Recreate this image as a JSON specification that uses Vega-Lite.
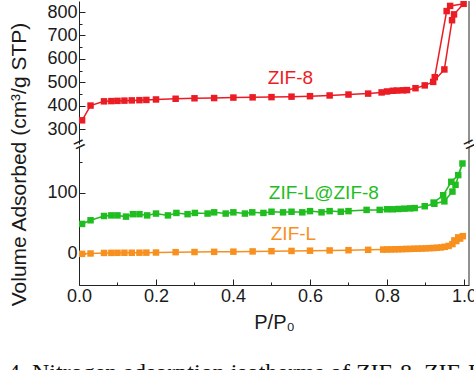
{
  "$schema": "https://vega.github.io/schema/vega-lite/v6.json",
  "autosize": {"type": "pad"},
  "padding": {"left": 7, "top": 0, "right": 0, "bottom": 0},
  "background": "white",
  "spacing": 3,
  "bounds": "flush",
  "config": {"font": "Liberation Sans", "view": {"stroke": null}},
  "title": {"text": "4. Nitrogen adsorption isotherms of ZIF-8, ZIF-L and ZIF-L@ZIF-8", "orient": "bottom", "anchor": "start", "frame": "bounds", "font": "Liberation Serif", "fontSize": 24, "fontWeight": "normal", "color": "#111", "offset": 29},
  "datasets": {
    "iso": [
      {"s": "ZIF-8", "i": 1, "P": 0.008, "V": 338},
      {"s": "ZIF-8", "i": 2, "P": 0.030, "V": 401},
      {"s": "ZIF-8", "i": 3, "P": 0.065, "V": 419},
      {"s": "ZIF-8", "i": 4, "P": 0.084, "V": 420},
      {"s": "ZIF-8", "i": 5, "P": 0.100, "V": 421},
      {"s": "ZIF-8", "i": 6, "P": 0.118, "V": 422},
      {"s": "ZIF-8", "i": 7, "P": 0.137, "V": 423},
      {"s": "ZIF-8", "i": 8, "P": 0.157, "V": 424},
      {"s": "ZIF-8", "i": 9, "P": 0.175, "V": 425},
      {"s": "ZIF-8", "i": 10, "P": 0.200, "V": 427},
      {"s": "ZIF-8", "i": 11, "P": 0.251, "V": 430},
      {"s": "ZIF-8", "i": 12, "P": 0.300, "V": 432},
      {"s": "ZIF-8", "i": 13, "P": 0.351, "V": 433},
      {"s": "ZIF-8", "i": 14, "P": 0.401, "V": 435},
      {"s": "ZIF-8", "i": 15, "P": 0.451, "V": 436},
      {"s": "ZIF-8", "i": 16, "P": 0.500, "V": 437},
      {"s": "ZIF-8", "i": 17, "P": 0.552, "V": 439},
      {"s": "ZIF-8", "i": 18, "P": 0.600, "V": 441},
      {"s": "ZIF-8", "i": 19, "P": 0.651, "V": 444},
      {"s": "ZIF-8", "i": 20, "P": 0.700, "V": 448},
      {"s": "ZIF-8", "i": 21, "P": 0.751, "V": 452},
      {"s": "ZIF-8", "i": 22, "P": 0.786, "V": 457},
      {"s": "ZIF-8", "i": 23, "P": 0.800, "V": 461},
      {"s": "ZIF-8", "i": 24, "P": 0.815, "V": 464},
      {"s": "ZIF-8", "i": 25, "P": 0.826, "V": 465},
      {"s": "ZIF-8", "i": 26, "P": 0.842, "V": 466},
      {"s": "ZIF-8", "i": 27, "P": 0.852, "V": 467},
      {"s": "ZIF-8", "i": 28, "P": 0.874, "V": 475},
      {"s": "ZIF-8", "i": 29, "P": 0.898, "V": 487},
      {"s": "ZIF-8", "i": 30, "P": 0.920, "V": 502},
      {"s": "ZIF-8", "i": 31, "P": 0.949, "V": 555},
      {"s": "ZIF-8", "i": 32, "P": 0.969, "V": 765},
      {"s": "ZIF-8", "i": 33, "P": 0.974, "V": 790},
      {"s": "ZIF-8", "i": 34, "P": 0.999, "V": 835},
      {"s": "ZIF-8", "i": 35, "P": 0.964, "V": 826},
      {"s": "ZIF-8", "i": 36, "P": 0.955, "V": 804},
      {"s": "ZIF-8", "i": 37, "P": 0.924, "V": 522},

      {"s": "ZIF-L@ZIF-8", "i": 1, "P": 0.008, "V": 49},
      {"s": "ZIF-L@ZIF-8", "i": 2, "P": 0.030, "V": 55},
      {"s": "ZIF-L@ZIF-8", "i": 3, "P": 0.065, "V": 62},
      {"s": "ZIF-L@ZIF-8", "i": 4, "P": 0.084, "V": 63},
      {"s": "ZIF-L@ZIF-8", "i": 5, "P": 0.100, "V": 63},
      {"s": "ZIF-L@ZIF-8", "i": 6, "P": 0.122, "V": 61},
      {"s": "ZIF-L@ZIF-8", "i": 7, "P": 0.140, "V": 65},
      {"s": "ZIF-L@ZIF-8", "i": 8, "P": 0.157, "V": 65},
      {"s": "ZIF-L@ZIF-8", "i": 9, "P": 0.177, "V": 63},
      {"s": "ZIF-L@ZIF-8", "i": 10, "P": 0.200, "V": 66},
      {"s": "ZIF-L@ZIF-8", "i": 11, "P": 0.231, "V": 63},
      {"s": "ZIF-L@ZIF-8", "i": 12, "P": 0.253, "V": 67},
      {"s": "ZIF-L@ZIF-8", "i": 13, "P": 0.282, "V": 65},
      {"s": "ZIF-L@ZIF-8", "i": 14, "P": 0.301, "V": 67},
      {"s": "ZIF-L@ZIF-8", "i": 15, "P": 0.334, "V": 66},
      {"s": "ZIF-L@ZIF-8", "i": 16, "P": 0.351, "V": 68},
      {"s": "ZIF-L@ZIF-8", "i": 17, "P": 0.381, "V": 66},
      {"s": "ZIF-L@ZIF-8", "i": 18, "P": 0.401, "V": 68},
      {"s": "ZIF-L@ZIF-8", "i": 19, "P": 0.431, "V": 66},
      {"s": "ZIF-L@ZIF-8", "i": 20, "P": 0.450, "V": 68},
      {"s": "ZIF-L@ZIF-8", "i": 21, "P": 0.479, "V": 67},
      {"s": "ZIF-L@ZIF-8", "i": 22, "P": 0.500, "V": 69},
      {"s": "ZIF-L@ZIF-8", "i": 23, "P": 0.530, "V": 68},
      {"s": "ZIF-L@ZIF-8", "i": 24, "P": 0.552, "V": 69},
      {"s": "ZIF-L@ZIF-8", "i": 25, "P": 0.580, "V": 68},
      {"s": "ZIF-L@ZIF-8", "i": 26, "P": 0.600, "V": 70},
      {"s": "ZIF-L@ZIF-8", "i": 27, "P": 0.630, "V": 68},
      {"s": "ZIF-L@ZIF-8", "i": 28, "P": 0.651, "V": 70},
      {"s": "ZIF-L@ZIF-8", "i": 29, "P": 0.680, "V": 69},
      {"s": "ZIF-L@ZIF-8", "i": 30, "P": 0.700, "V": 70},
      {"s": "ZIF-L@ZIF-8", "i": 31, "P": 0.747, "V": 72},
      {"s": "ZIF-L@ZIF-8", "i": 32, "P": 0.781, "V": 72},
      {"s": "ZIF-L@ZIF-8", "i": 33, "P": 0.800, "V": 73},
      {"s": "ZIF-L@ZIF-8", "i": 34, "P": 0.815, "V": 73},
      {"s": "ZIF-L@ZIF-8", "i": 35, "P": 0.830, "V": 73.5},
      {"s": "ZIF-L@ZIF-8", "i": 36, "P": 0.845, "V": 74},
      {"s": "ZIF-L@ZIF-8", "i": 37, "P": 0.860, "V": 74.5},
      {"s": "ZIF-L@ZIF-8", "i": 38, "P": 0.872, "V": 75},
      {"s": "ZIF-L@ZIF-8", "i": 39, "P": 0.898, "V": 78},
      {"s": "ZIF-L@ZIF-8", "i": 40, "P": 0.923, "V": 82},
      {"s": "ZIF-L@ZIF-8", "i": 41, "P": 0.949, "V": 86},
      {"s": "ZIF-L@ZIF-8", "i": 42, "P": 0.970, "V": 102},
      {"s": "ZIF-L@ZIF-8", "i": 43, "P": 0.978, "V": 113},
      {"s": "ZIF-L@ZIF-8", "i": 44, "P": 0.996, "V": 148},
      {"s": "ZIF-L@ZIF-8", "i": 45, "P": 0.985, "V": 129},
      {"s": "ZIF-L@ZIF-8", "i": 46, "P": 0.967, "V": 118},
      {"s": "ZIF-L@ZIF-8", "i": 47, "P": 0.946, "V": 96},
      {"s": "ZIF-L@ZIF-8", "i": 48, "P": 0.921, "V": 84},

      {"s": "ZIF-L", "i": 1, "P": 0.008, "V": 0},
      {"s": "ZIF-L", "i": 2, "P": 0.030, "V": 0.6},
      {"s": "ZIF-L", "i": 3, "P": 0.065, "V": 1.5},
      {"s": "ZIF-L", "i": 4, "P": 0.084, "V": 1.6},
      {"s": "ZIF-L", "i": 5, "P": 0.100, "V": 1.7},
      {"s": "ZIF-L", "i": 6, "P": 0.118, "V": 1.8},
      {"s": "ZIF-L", "i": 7, "P": 0.137, "V": 1.8},
      {"s": "ZIF-L", "i": 8, "P": 0.157, "V": 1.9},
      {"s": "ZIF-L", "i": 9, "P": 0.175, "V": 2},
      {"s": "ZIF-L", "i": 10, "P": 0.200, "V": 2.2},
      {"s": "ZIF-L", "i": 11, "P": 0.251, "V": 2.8},
      {"s": "ZIF-L", "i": 12, "P": 0.300, "V": 3},
      {"s": "ZIF-L", "i": 13, "P": 0.351, "V": 3.3},
      {"s": "ZIF-L", "i": 14, "P": 0.401, "V": 3.6},
      {"s": "ZIF-L", "i": 15, "P": 0.451, "V": 4},
      {"s": "ZIF-L", "i": 16, "P": 0.500, "V": 4.4},
      {"s": "ZIF-L", "i": 17, "P": 0.552, "V": 4.8},
      {"s": "ZIF-L", "i": 18, "P": 0.600, "V": 5.2},
      {"s": "ZIF-L", "i": 19, "P": 0.651, "V": 5.6},
      {"s": "ZIF-L", "i": 20, "P": 0.700, "V": 6},
      {"s": "ZIF-L", "i": 21, "P": 0.751, "V": 6.6},
      {"s": "ZIF-L", "i": 22, "P": 0.790, "V": 7},
      {"s": "ZIF-L", "i": 23, "P": 0.800, "V": 7.2},
      {"s": "ZIF-L", "i": 24, "P": 0.810, "V": 7.3},
      {"s": "ZIF-L", "i": 25, "P": 0.820, "V": 7.5},
      {"s": "ZIF-L", "i": 26, "P": 0.830, "V": 7.6},
      {"s": "ZIF-L", "i": 27, "P": 0.840, "V": 7.8},
      {"s": "ZIF-L", "i": 28, "P": 0.850, "V": 8},
      {"s": "ZIF-L", "i": 29, "P": 0.860, "V": 8.1},
      {"s": "ZIF-L", "i": 30, "P": 0.870, "V": 8.3},
      {"s": "ZIF-L", "i": 31, "P": 0.880, "V": 8.5},
      {"s": "ZIF-L", "i": 32, "P": 0.890, "V": 8.7},
      {"s": "ZIF-L", "i": 33, "P": 0.900, "V": 9},
      {"s": "ZIF-L", "i": 34, "P": 0.910, "V": 9.3},
      {"s": "ZIF-L", "i": 35, "P": 0.920, "V": 9.6},
      {"s": "ZIF-L", "i": 36, "P": 0.930, "V": 10},
      {"s": "ZIF-L", "i": 37, "P": 0.940, "V": 10.5},
      {"s": "ZIF-L", "i": 38, "P": 0.950, "V": 11.5},
      {"s": "ZIF-L", "i": 39, "P": 0.960, "V": 13},
      {"s": "ZIF-L", "i": 40, "P": 0.970, "V": 16},
      {"s": "ZIF-L", "i": 41, "P": 0.980, "V": 21},
      {"s": "ZIF-L", "i": 42, "P": 0.990, "V": 25},
      {"s": "ZIF-L", "i": 43, "P": 0.997, "V": 29},
      {"s": "ZIF-L", "i": 44, "P": 0.985, "V": 27},
      {"s": "ZIF-L", "i": 45, "P": 0.975, "V": 22}
    ],
    "labels": [
      {"s": "ZIF-8", "label": "ZIF-8", "P": 0.549, "V": 518},
      {"s": "ZIF-L@ZIF-8", "label": "ZIF-L@ZIF-8", "P": 0.636, "V": 100},
      {"s": "ZIF-L", "label": "ZIF-L", "P": 0.557, "V": 32}
    ]
  },
  "vconcat": [
    {
      "width": 390,
      "height": 143,
      "layer": [
        {
          "data": {"name": "iso"},
          "transform": [{"filter": "datum.s === 'ZIF-8'"}],
          "mark": {"type": "line", "strokeWidth": 1.5, "clip": true, "point": {"shape": "square", "filled": true, "size": 42, "opacity": 1}},
          "encoding": {
            "x": {"field": "P", "type": "quantitative", "scale": {"domain": [0, 1.013], "nice": false, "zero": false}, "axis": null},
            "y": {"field": "V", "type": "quantitative", "scale": {"domain": [237, 847], "nice": false, "zero": false},
              "axis": {"values": [300, 350, 400, 450, 500, 550, 600, 650, 700, 750, 800], "tickCount": 100,
                "labelExpr": "datum.value % 100 === 0 ? format(datum.value, 'd') : ''",
                "tickSize": {"condition": {"test": "datum.value % 100 !== 0", "value": -3}, "value": -6},
                "labelPadding": 8, "labelFontSize": 18, "labelColor": "#1a1a1a", "labelOverlap": false, "labelBound": false, "labelFlush": false,
                "domainColor": "#222", "tickColor": "#222", "grid": false,
                "title": "Volume Adsorbed (cm³/g STP)", "titleFontSize": 21, "titleFontWeight": "normal", "titleColor": "#1a1a1a",
                "titleX": -50, "titleY": 163, "titleAngle": 270, "titleAlign": "center", "titleBaseline": "bottom"}},
            "color": {"field": "s", "type": "nominal", "scale": {"domain": ["ZIF-8", "ZIF-L@ZIF-8", "ZIF-L"], "range": ["#ec1c24", "#1fbd1f", "#f7901e"]}, "legend": null},
            "order": {"field": "i", "type": "quantitative"}
          }
        },
        {
          "data": {"name": "labels"},
          "transform": [{"filter": "datum.s === 'ZIF-8'"}],
          "mark": {"type": "text", "fontSize": 19, "align": "center", "baseline": "middle"},
          "encoding": {
            "x": {"field": "P", "type": "quantitative"},
            "y": {"field": "V", "type": "quantitative"},
            "text": {"field": "label"},
            "color": {"field": "s", "type": "nominal", "legend": null}
          }
        },
        {
          "data": {"values": [{}]},
          "mark": {"type": "rule", "color": "#222", "strokeWidth": 1},
          "encoding": {"x": {"datum": 1.013}}
        },
        {
          "data": {"values": [{}]},
          "mark": {"type": "text", "text": "=", "angle": -25, "fontSize": 20, "color": "#222", "dy": 1, "clip": false},
          "encoding": {"x": {"datum": 0}, "y": {"datum": 237}}
        },
        {
          "data": {"values": [{}]},
          "mark": {"type": "text", "text": "=", "angle": -25, "fontSize": 20, "color": "#222", "dy": 1, "clip": false},
          "encoding": {"x": {"datum": 1.013}, "y": {"datum": 237}}
        }
      ]
    },
    {
      "width": 390,
      "height": 138,
      "layer": [
        {
          "data": {"name": "iso"},
          "transform": [{"filter": "datum.s !== 'ZIF-8'"}],
          "mark": {"type": "line", "strokeWidth": 1.5, "clip": true, "point": {"shape": "square", "filled": true, "size": 42, "opacity": 1}},
          "encoding": {
            "x": {"field": "P", "type": "quantitative", "scale": {"domain": [0, 1.013], "nice": false, "zero": false},
              "axis": {"values": [0, 0.1, 0.2, 0.3, 0.4, 0.5, 0.6, 0.7, 0.8, 0.9, 1.0], "tickCount": 100,
                "labelExpr": "round(datum.value*10) % 2 === 0 ? format(datum.value, '.1f') : ''",
                "tickSize": {"condition": {"test": "round(datum.value*10) % 2 === 1", "value": -3}, "value": -6},
                "labelPadding": 8, "labelFontSize": 18, "labelColor": "#1a1a1a", "labelOverlap": false, "labelBound": false, "labelFlush": false,
                "domainColor": "#222", "tickColor": "#222", "grid": false,
                "title": "P/P₀", "titleFontSize": 20, "titleFontWeight": "normal", "titleColor": "#1a1a1a",
                "titleY": 27, "titleBaseline": "top"}},
            "y": {"field": "V", "type": "quantitative", "scale": {"domain": [-51, 175], "nice": false, "zero": false},
              "axis": {"values": [0, 50, 100, 150], "tickCount": 100,
                "labelExpr": "datum.value % 100 === 0 ? format(datum.value, 'd') : ''",
                "tickSize": {"condition": {"test": "datum.value % 100 !== 0", "value": -3}, "value": -6},
                "labelPadding": 8, "labelFontSize": 18, "labelColor": "#1a1a1a", "labelOverlap": false, "labelBound": false, "labelFlush": false,
                "domainColor": "#222", "tickColor": "#222", "grid": false, "title": null}},
            "color": {"field": "s", "type": "nominal", "scale": {"domain": ["ZIF-8", "ZIF-L@ZIF-8", "ZIF-L"], "range": ["#ec1c24", "#1fbd1f", "#f7901e"]}, "legend": null},
            "order": {"field": "i", "type": "quantitative"}
          }
        },
        {
          "data": {"name": "labels"},
          "transform": [{"filter": "datum.s !== 'ZIF-8'"}],
          "mark": {"type": "text", "fontSize": 19, "align": "center", "baseline": "middle"},
          "encoding": {
            "x": {"field": "P", "type": "quantitative"},
            "y": {"field": "V", "type": "quantitative"},
            "text": {"field": "label"},
            "color": {"field": "s", "type": "nominal", "legend": null}
          }
        },
        {
          "data": {"values": [{}]},
          "mark": {"type": "rule", "color": "#222", "strokeWidth": 1},
          "encoding": {"x": {"datum": 1.013}}
        }
      ]
    }
  ]
}
